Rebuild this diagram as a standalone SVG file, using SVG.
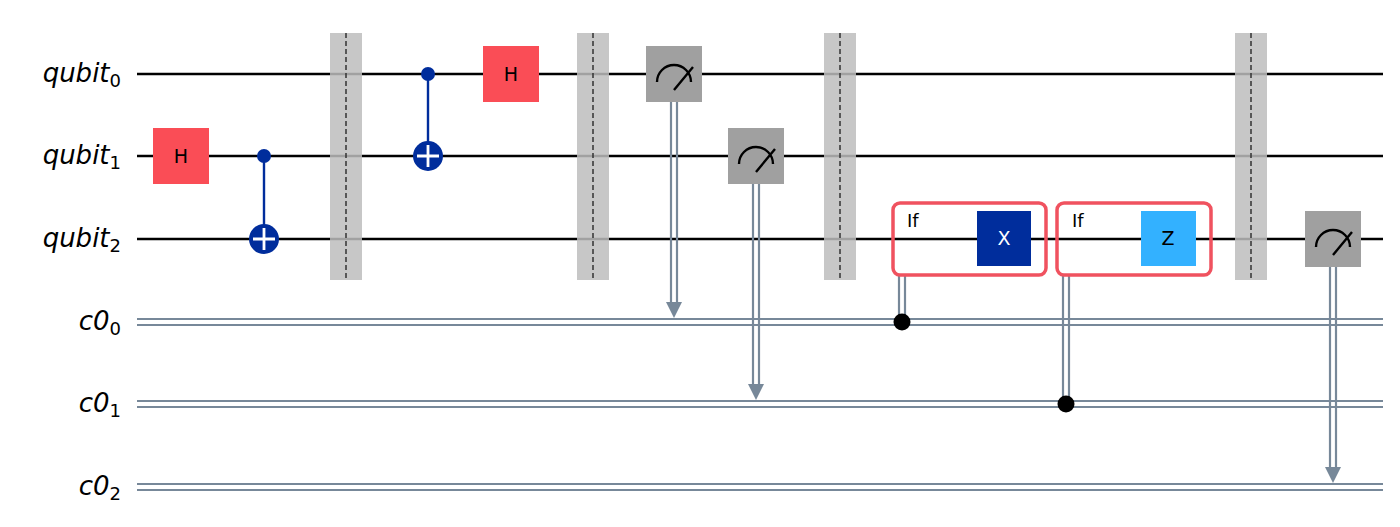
<svg xmlns="http://www.w3.org/2000/svg" width="1400" height="527" viewBox="0 0 1400 527">
<style>
.q{stroke:#000;stroke-width:2.5}
.c{stroke:#778899;stroke-width:2.2}
.lab{font-family:"DejaVu Sans",sans-serif;font-style:italic;font-size:26px;text-anchor:end}
.sub{font-size:18px;font-style:normal}
.bar{fill:#bdbdbd;opacity:0.85}
.bl{stroke:#333;stroke-width:1.5;stroke-dasharray:5,3}
.h{fill:#fa4d56}
.m{fill:#a0a0a0}
.t{font-family:"DejaVu Sans",sans-serif;font-size:19px;text-anchor:middle}
.ifb{fill:none;stroke:#f0525f;stroke-width:3.5}
.ctl{fill:#002d9c}
.meter{fill:none;stroke:#000;stroke-width:2.4}
</style>
<rect width="1400" height="527" fill="#fff"/>
<g id="labels">
<text class="lab" x="121" y="82">qubit<tspan class="sub" dy="5">0</tspan></text>
<text class="lab" x="121" y="164">qubit<tspan class="sub" dy="5">1</tspan></text>
<text class="lab" x="121" y="247">qubit<tspan class="sub" dy="5">2</tspan></text>
<text class="lab" x="121" y="330">c0<tspan class="sub" dy="5">0</tspan></text>
<text class="lab" x="121" y="412">c0<tspan class="sub" dy="5">1</tspan></text>
<text class="lab" x="121" y="495">c0<tspan class="sub" dy="5">2</tspan></text>
</g>
<g id="wires">
<line class="q" x1="137" y1="74" x2="1383" y2="74"/>
<line class="q" x1="137" y1="156" x2="1383" y2="156"/>
<line class="q" x1="137" y1="239" x2="1383" y2="239"/>
<line class="c" x1="137" y1="319" x2="1383" y2="319"/><line class="c" x1="137" y1="325" x2="1383" y2="325"/>
<line class="c" x1="137" y1="401" x2="1383" y2="401"/><line class="c" x1="137" y1="407" x2="1383" y2="407"/>
<line class="c" x1="137" y1="484" x2="1383" y2="484"/><line class="c" x1="137" y1="490" x2="1383" y2="490"/>
</g>
<g id="barriers">
<rect class="bar" x="330" y="33" width="32" height="247"/><line class="bl" x1="346" y1="33" x2="346" y2="280"/>
<rect class="bar" x="577" y="33" width="32" height="247"/><line class="bl" x1="593" y1="33" x2="593" y2="280"/>
<rect class="bar" x="824" y="33" width="32" height="247"/><line class="bl" x1="840" y1="33" x2="840" y2="280"/>
<rect class="bar" x="1235" y="33" width="32" height="247"/><line class="bl" x1="1251" y1="33" x2="1251" y2="280"/>
</g>
<g id="connectors">
<line x1="264" y1="156" x2="264" y2="239" stroke="#002d9c" stroke-width="2.4"/>
<line x1="428" y1="74" x2="428" y2="156" stroke="#002d9c" stroke-width="2.4"/>
<line class="c" x1="671" y1="102" x2="671" y2="306"/><line class="c" x1="677" y1="102" x2="677" y2="306"/>
<path d="M666,302 L682,302 L674,318 z" fill="#778899"/>
<line class="c" x1="753" y1="184" x2="753" y2="388"/><line class="c" x1="759" y1="184" x2="759" y2="388"/>
<path d="M748,384 L764,384 L756,400 z" fill="#778899"/>
<line class="c" x1="899" y1="276" x2="899" y2="322"/><line class="c" x1="905" y1="276" x2="905" y2="322"/>
<line class="c" x1="1063" y1="276" x2="1063" y2="404"/><line class="c" x1="1069" y1="276" x2="1069" y2="404"/>
<line class="c" x1="1330" y1="267" x2="1330" y2="471"/><line class="c" x1="1336" y1="267" x2="1336" y2="471"/>
<path d="M1325,467 L1341,467 L1333,483 z" fill="#778899"/>
<circle cx="902" cy="322" r="8.5" fill="#000"/>
<circle cx="1066" cy="404" r="8.5" fill="#000"/>
</g>
<g id="h1"><rect class="h" x="153" y="128" width="56" height="56"/><text class="t" x="181" y="163">H</text></g>
<g id="cx1"><circle cx="264" cy="156" r="7" class="ctl"/><circle cx="264" cy="239" r="15" class="ctl"/><path d="M264,228 V250 M253,239 H275" stroke="#fff" stroke-width="2.8"/></g>
<g id="cx2"><circle cx="428" cy="74" r="7" class="ctl"/><circle cx="428" cy="156" r="15" class="ctl"/><path d="M428,145 V167 M417,156 H439" stroke="#fff" stroke-width="2.8"/></g>
<g id="h2"><rect class="h" x="483" y="46" width="56" height="56"/><text class="t" x="511" y="81">H</text></g>
<g id="m0"><rect class="m" x="646" y="46" width="56" height="56"/><path class="meter" d="M657,82 A17,17 0 0 1 691,82 M674,90 L693,67"/></g>
<g id="m1"><rect class="m" x="728" y="128" width="56" height="56"/><path class="meter" d="M739,164 A17,17 0 0 1 773,164 M756,172 L775,149"/></g>
<g id="m2"><rect class="m" x="1305" y="211" width="56" height="56"/><path class="meter" d="M1316,247 A17,17 0 0 1 1350,247 M1333,255 L1352,232"/></g>
<g id="if1"><rect class="ifb" x="893" y="203" width="153" height="72" rx="7"/><text x="907" y="227" font-family="DejaVu Sans,sans-serif" font-size="18">If</text><rect x="977" y="211" width="54" height="55" fill="#002d9c"/><text class="t" x="1004" y="245" fill="#fff">X</text></g>
<g id="if2"><rect class="ifb" x="1057" y="203" width="154" height="72" rx="7"/><text x="1072" y="227" font-family="DejaVu Sans,sans-serif" font-size="18">If</text><rect x="1141" y="211" width="55" height="55" fill="#33b1ff"/><text class="t" x="1168" y="245">Z</text></g>
</svg>
